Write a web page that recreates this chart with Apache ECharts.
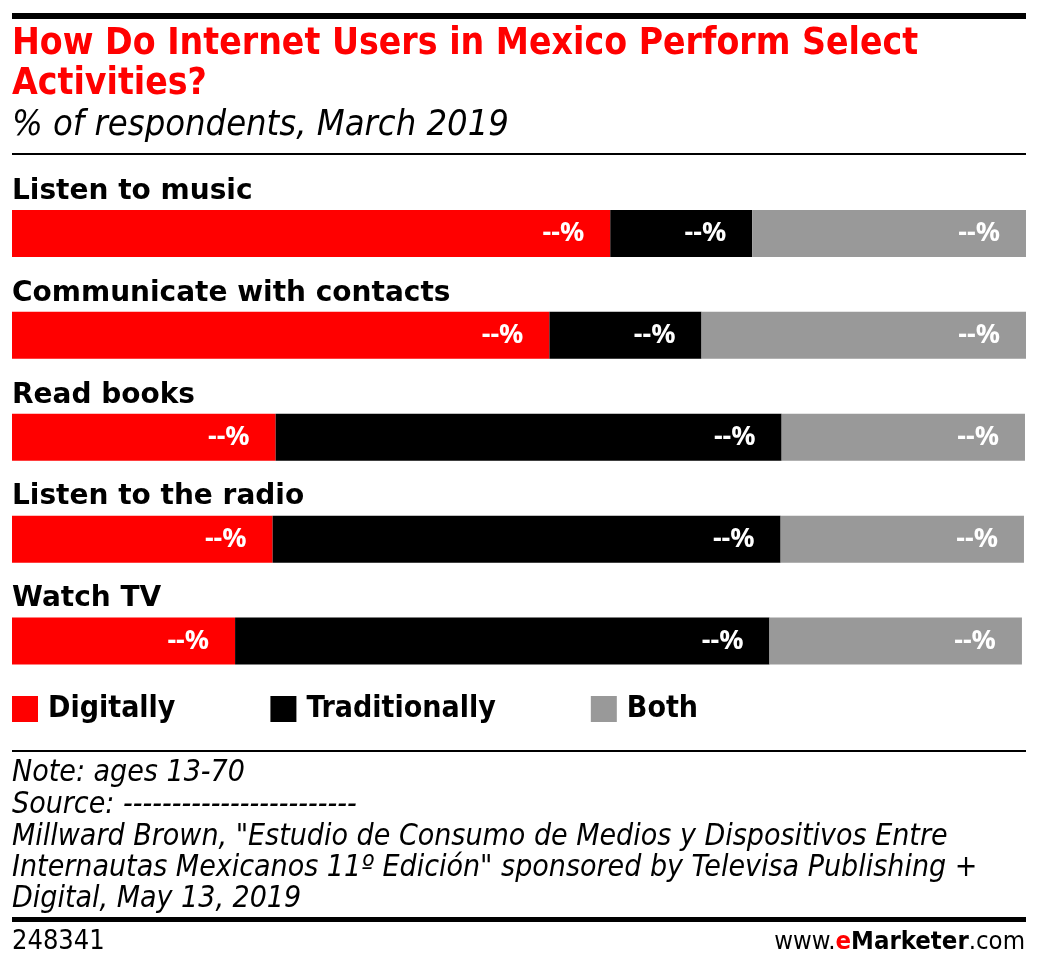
<!DOCTYPE html>
<html>
<head>
<meta charset="utf-8">
<script src="https://cdn.jsdelivr.net/npm/echarts@6/dist/echarts.min.js"></script>
<style>
  html, body { margin: 0; padding: 0; background: #fff; }
  #main { width: 1039px; height: 968px; }
</style>
</head>
<body>
<div id="main"></div>
<script>
  // activities, top to bottom
  const activities = ['Listen to music', 'Communicate with contacts', 'Read books', 'Listen to the radio', 'Watch TV'];
  // % of respondents (values hidden as --% in the original)
  const digitally = [59, 53, 26, 25.7, 22];
  const traditionally = [14, 15, 49.9, 50.1, 52.7];
  const both = [27, 32, 24, 24, 24.9];
  const seriesNames = ['Digitally', 'Traditionally', 'Both'];

  const narrow = '"Liberation Sans Narrow", "DejaVu Sans Condensed", sans-serif';

  const chart = echarts.init(document.getElementById('main'));

  function barSeries(name, data, color) {
    return {
      name: name,
      type: 'bar',
      stack: 'total',
      data: data,
      barWidth: 47,
      itemStyle: { color: color },
      label: {
        show: true,
        position: 'insideRight',
        distance: 26,
        formatter: '--%',
        color: '#fff',
        fontFamily: '"Open Sans", sans-serif',
        fontWeight: 'bold',
        fontSize: 27
      }
    };
  }

  chart.setOption({
    animation: false,
    grid: { left: 12, right: 13, top: 182.5, bottom: 276 },
    xAxis: { type: 'value', min: 0, max: 100, show: false },
    yAxis: {
      type: 'category',
      data: activities,
      inverse: true,
      axisLine: { show: false },
      axisTick: { show: false },
      axisLabel: {
        inside: true,
        margin: 0,
        align: 'left',
        verticalAlign: 'bottom',
        padding: [0, 0, 28, 0],
        color: '#000',
        fontFamily: '"DejaVu Sans", sans-serif',
        fontWeight: 'bold',
        fontSize: 28
      },
      z: 10
    },
    legend: {
      data: seriesNames,
      left: 12,
      top: 694,
      padding: 0,
      itemWidth: 26,
      itemHeight: 26,
      itemGap: 95,
      icon: 'rect',
      textStyle: {
        fontFamily: narrow,
        fontWeight: 'bold',
        fontSize: 30,
        color: '#000',
        padding: [0, 0, 0, 5]
      }
    },
    series: [
      barSeries(seriesNames[0], digitally, '#ff0000'),
      barSeries(seriesNames[1], traditionally, '#000000'),
      barSeries(seriesNames[2], both, '#999999')
    ],
    graphic: [
      { type: 'rect', shape: { x: 12, y: 13, width: 1014, height: 6 }, style: { fill: '#000' } },
      { type: 'text', x: 12, y: 44, style: { text: 'How Do Internet Users in Mexico Perform Select', fill: '#ff0000', font: 'bold 37px ' + narrow, verticalAlign: 'middle' } },
      { type: 'text', x: 12, y: 84, style: { text: 'Activities?', fill: '#ff0000', font: 'bold 37px ' + narrow, verticalAlign: 'middle' } },
      { type: 'text', x: 12, y: 126, style: { text: '% of respondents, March 2019', fill: '#000', font: 'italic 36px ' + narrow, verticalAlign: 'middle' } },
      { type: 'rect', shape: { x: 12, y: 153, width: 1014, height: 2 }, style: { fill: '#000' } },
      { type: 'rect', shape: { x: 12, y: 750, width: 1014, height: 2 }, style: { fill: '#000' } },
      { type: 'text', x: 12, y: 773, style: { text: 'Note: ages 13-70', fill: '#000', font: 'italic 30px ' + narrow, verticalAlign: 'middle' } },
      { type: 'text', x: 12, y: 805, style: { text: 'Source: ------------------------', fill: '#000', font: 'italic 30px ' + narrow, verticalAlign: 'middle' } },
      { type: 'text', x: 12, y: 837, style: { text: 'Millward Brown, "Estudio de Consumo de Medios y Dispositivos Entre', fill: '#000', font: 'italic 30px ' + narrow, verticalAlign: 'middle' } },
      { type: 'text', x: 12, y: 868, style: { text: 'Internautas Mexicanos 11º Edición" sponsored by Televisa Publishing +', fill: '#000', font: 'italic 30px ' + narrow, verticalAlign: 'middle' } },
      { type: 'text', x: 12, y: 899, style: { text: 'Digital, May 13, 2019', fill: '#000', font: 'italic 30px ' + narrow, verticalAlign: 'middle' } },
      { type: 'rect', shape: { x: 12, y: 917, width: 1014, height: 5 }, style: { fill: '#000' } },
      { type: 'text', x: 12, y: 942, style: { text: '248341', fill: '#000', font: '27px ' + narrow, verticalAlign: 'middle' } },
      {
        type: 'text', x: 1025, y: 942,
        style: {
          text: '{a|www.}{b|e}{c|Marketer}{a|.com}',
          align: 'right',
          verticalAlign: 'middle',
          rich: {
            a: { fontFamily: narrow, fontSize: 25.5, fill: '#000' },
            b: { fontFamily: narrow, fontSize: 25.5, fontWeight: 'bold', fill: '#ff0000' },
            c: { fontFamily: narrow, fontSize: 25.5, fontWeight: 'bold', fill: '#000' }
          }
        }
      }
    ]
  });
</script>
</body>
</html>
